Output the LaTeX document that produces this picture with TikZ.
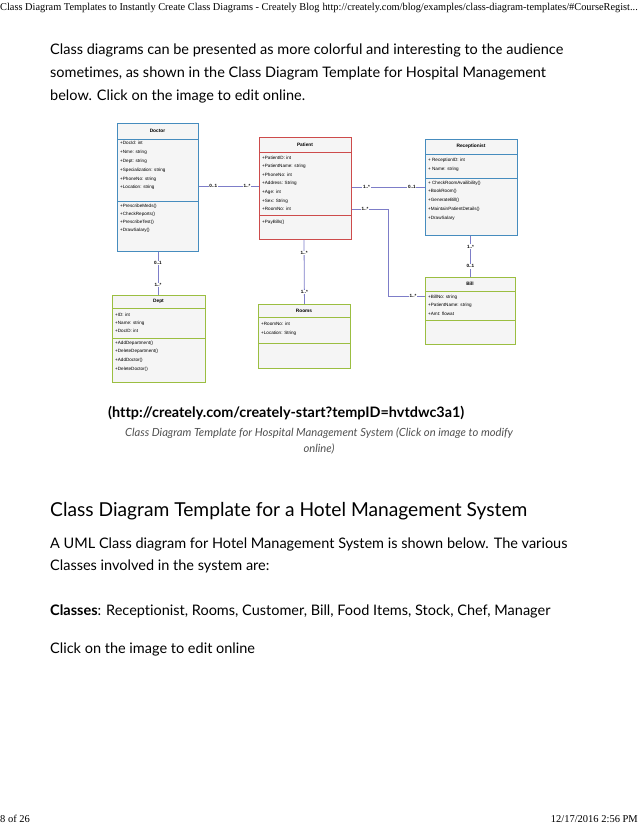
\documentclass[tikz,border=0pt]{standalone}
\usepackage{fontspec}
\setmainfont{Lato}[Ligatures={NoCommon}]
\newfontfamily\hdrfont{Liberation Serif}
\newfontfamily\umlfont{Liberation Sans}
\usetikzlibrary{calc}
\definecolor{blueb}{RGB}{70,140,190}
\definecolor{redb}{RGB}{205,75,75}
\definecolor{greenb}{RGB}{155,190,65}
\definecolor{assoc}{RGB}{125,125,200}
\definecolor{boxfill}{RGB}{245,245,245}
\definecolor{capgray}{RGB}{80,80,80}
\tikzset{
  cls/.style={draw=#1, line width=0.9pt, fill=boxfill, anchor=north west, inner sep=0pt},
  attr/.style={anchor=west, inner sep=0pt, font=\umlfont\fontsize{4.6}{5}\selectfont},
  ttl/.style={anchor=center, inner sep=0pt, font=\umlfont\bfseries\fontsize{4.8}{5}\selectfont},
  asc/.style={draw=assoc, line width=0.8pt},
  mult/.style={fill=white, inner sep=0.6pt, font=\umlfont\bfseries\fontsize{4.6}{5}\selectfont},
  para/.style={anchor=west, inner sep=0pt, font=\fontsize{14.5}{16}\selectfont},
  hdr/.style={inner sep=0pt, font=\hdrfont\fontsize{10.5}{12}\selectfont},
}
\begin{document}
\begin{tikzpicture}[x=1pt,y=-1pt]
\useasboundingbox (0,0) rectangle (638,826);
% header / footer
\node[hdr, anchor=west] (h1) at (0,8) {\scalebox{0.985}[1]{Class Diagram Templates to Instantly Create Class Diagrams - Creately Blog}};
\node[hdr, anchor=east] (h2) at (638,8) {\scalebox{0.985}[1]{http://creately.com/blog/examples/class-diagram-templates/\#CourseRegist...}};
\node[hdr, anchor=west] (f1) at (0,819) {8 of 26};
\node[hdr, anchor=east] (f2) at (638,819) {12/17/2016 2:56 PM};
% paragraph
\node[para] (p1) at (50,50) {Class diagrams can be presented as more colorful and interesting to the audience};
\node[para] (p2) at (50,73) {sometimes, as shown in the Class Diagram Template for Hospital Management};
\node[para] (p3) at (50,96) {below. Click on the image to edit online.};

% ---------- Doctor
\node[cls=blueb, minimum width=81pt, minimum height=128pt] (doctor) at (117,123) {};
\draw[blueb, line width=0.9pt] (117,139) -- (198,139) (117,201) -- (198,201);
\node[ttl] (tdoc) at (157.5,130.5) {Doctor};
\node[attr] (d1) at (120,143) {+DocId: int};
\node[attr] (d2) at (120,152) {+Nme: string};
\node[attr] (d3) at (120,161) {+Dept: string};
\node[attr] (d4) at (120,170) {+Specialization: string};
\node[attr] (d5) at (120,179) {+PhoneNo: string};
\node[attr] (d6) at (120,187) {+Location: string};
\node[attr] (d7) at (120,206) {+PrescribeMeds()};
\node[attr] (d8) at (120,214) {+CheckReports()};
\node[attr] (d9) at (120,222) {+PrescribeTest()};
\node[attr] (d10) at (120,230) {+DrawSalary()};

% ---------- Patient
\node[cls=redb, minimum width=92pt, minimum height=102pt] (patient) at (259,137) {};
\draw[redb, line width=0.9pt] (259,152) -- (351,152) (259,215) -- (351,215);
\node[ttl] (tpat) at (305,144.5) {Patient};
\node[attr] (p1a) at (262,158) {+PatientID: int};
\node[attr] (p2a) at (262,166) {+PatientName: string};
\node[attr] (p3a) at (262,175) {+PhoneNo: int};
\node[attr] (p4a) at (262,183) {+Address: String};
\node[attr] (p5a) at (262,192) {+Age: int};
\node[attr] (p6a) at (262,201) {+Sex: String};
\node[attr] (p7a) at (262,209) {+RoomNo: int};
\node[attr] (p8a) at (262,222) {+PayBills()};

% ---------- Receptionist
\node[cls=blueb, minimum width=92pt, minimum height=96pt] (recep) at (425,139) {};
\draw[blueb, line width=0.9pt] (425,154) -- (517,154) (425,178) -- (517,178);
\node[ttl] (trec) at (471,146.5) {Receptionist};
\node[attr] (r1) at (428,160) {+ ReceptionID: int};
\node[attr] (r2) at (428,169) {+ Name: string};
\node[attr] (r3) at (428,183) {+ CheckRoomAvailibility()};
\node[attr] (r4) at (428,191) {+BookRoom()};
\node[attr] (r5) at (428,200) {+GenerateBill()};
\node[attr] (r6) at (428,209) {+MaintainPatientDetails()};
\node[attr] (r7) at (428,218) {+DrawSalary};

% ---------- Dept
\node[cls=greenb, minimum width=93pt, minimum height=87pt] (dept) at (112,295) {};
\draw[greenb, line width=0.9pt] (112,308) -- (205,308) (112,338) -- (205,338);
\node[ttl] (tdep) at (158.5,301.5) {Dept};
\node[attr] (e1) at (115,315) {+ID: int};
\node[attr] (e2) at (115,323) {+Name: string};
\node[attr] (e3) at (115,331) {+DocID: int};
\node[attr] (e4) at (115,343) {+AddDepartment()};
\node[attr] (e5) at (115,351) {+DeleteDepartment()};
\node[attr] (e6) at (115,360) {+AddDoctor()};
\node[attr] (e7) at (115,369) {+DeleteDoctor()};

% ---------- Rooms
\node[cls=greenb, minimum width=92pt, minimum height=64pt] (rooms) at (258,304) {};
\draw[greenb, line width=0.9pt] (258,317) -- (350,317) (258,343) -- (350,343);
\node[ttl] (troo) at (304,310.5) {Rooms};
\node[attr] (o1) at (261,324) {+RoomNo: int};
\node[attr] (o2) at (261,333) {+Location: String};

% ---------- Bill
\node[cls=greenb, minimum width=90pt, minimum height=67pt] (bill) at (425,277) {};
\draw[greenb, line width=0.9pt] (425,291) -- (515,291) (425,320) -- (515,320);
\node[ttl] (tbil) at (470,284) {Bill};
\node[attr] (b1) at (428,297) {+BillNo: string};
\node[attr] (b2) at (428,305) {+PatientName: string};
\node[attr] (b3) at (428,314) {+Amt: flowat};

% ---------- associations
\draw[asc] (doctor.east |- 0,186) -- (patient.west |- 0,186)
  node[mult, pos=0.24] {0..1} node[mult, pos=0.8] {1..*};
\draw[asc] (patient.east |- 0,187) -- (recep.west |- 0,187)
  node[mult, pos=0.2] {1..*} node[mult, pos=0.82] {0..1};
\coordinate (bend1) at (388,209);
\coordinate (bend2) at (388,296);
\draw[asc] (patient.east |- bend1) -- (bend1) -- (bend2) -- (bend2 -| bill.west);
\node[mult] (m5) at (365,209) {1..*};
\node[mult] (m6) at (413,296) {1..*};
\draw[asc] (doctor.south) -- (doctor.south |- dept.north)
  node[mult, pos=0.26] {0..1} node[mult, pos=0.77] {1..*};
\draw[asc] (patient.south -| 304,0) -- (rooms.north)
  node[mult, pos=0.2] {1..*} node[mult, pos=0.81] {1..*};
\draw[asc] (recep.south -| bill.north) -- (bill.north)
  node[mult, pos=0.26] {1..*} node[mult, pos=0.74] {0..1};

% ---------- texts below
\node[anchor=west,inner sep=0pt,font=\bfseries\fontsize{14.4}{16}\selectfont] (link) at (108,413) {(http://creately.com/creately-start?tempID=hvtdwc3a1)};
\node[anchor=center,inner sep=0pt,text=capgray,font=\itshape\fontsize{11.2}{12}\selectfont] (cap1) at (319,433) {Class Diagram Template for Hospital Management System (Click on image to modify};
\node[anchor=center,inner sep=0pt,text=capgray,font=\itshape\fontsize{11.2}{12}\selectfont] (cap2) at (319,449) {online)};
\node[anchor=west,inner sep=0pt,font=\fontsize{19.2}{24}\selectfont] (head) at (50,511) {Class Diagram Template for a Hotel Management System};
\node[para] (q1) at (50,544) {A UML Class diagram for Hotel Management System is shown below. The various};
\node[para] (q2) at (50,566) {Classes involved in the system are:};
\node[para] (q3) at (50,611) {\textbf{Classes}: Receptionist, Rooms, Customer, Bill, Food Items, Stock, Chef, Manager};
\node[para] (q4) at (50,649) {Click on the image to edit online};
\end{tikzpicture}
\end{document}
